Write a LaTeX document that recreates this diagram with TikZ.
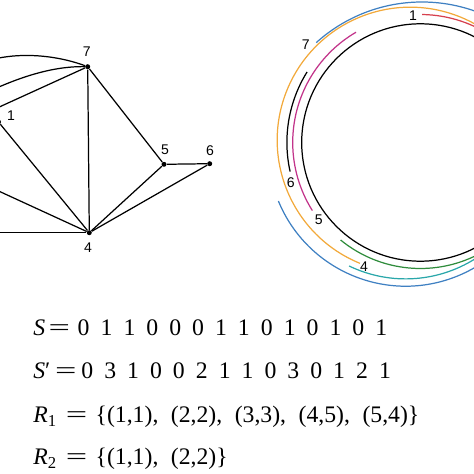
\documentclass[tikz,border=0pt]{standalone}
\usepackage{fontspec}
\setmainfont{Liberation Serif}
\setsansfont{Liberation Sans}

\definecolor{ringred}{HTML}{D6404E}
\definecolor{ringpink}{HTML}{C2338A}
\definecolor{ringorange}{HTML}{F2A93B}
\definecolor{ringblue}{HTML}{3F80C2}
\definecolor{ringteal}{HTML}{2AA7AA}
\definecolor{ringgreen}{HTML}{2F8C3C}

\newcommand\bitbox[1]{\makebox[0.458cm]{#1}}
\newcommand\eqsign{\makebox[0.46cm]{\scalebox{1.6}[1]{=}}}
\newcommand\lowsub[1]{\raisebox{-0.35ex}{\fontsize{9.5}{9.5}\selectfont #1}}

\tikzset{
  vert/.style={circle, fill=black, inner sep=0pt, minimum size=0.1cm},
  vlab/.style={font=\sffamily\fontsize{8}{9}\selectfont, inner sep=0pt},
  link/.style={line width=0.7pt},
  ring/.style={line width=0.7pt},
  eqn/.style={anchor=base west, inner sep=0pt, font=\fontsize{13.5}{15}\selectfont}
}

\begin{document}
\begin{tikzpicture}[x=0.02cm, y=0.02cm]
\useasboundingbox (0,0) rectangle (474,474);
\clip (0,0) rectangle (474,474);

% graph vertices
\node[vert] (n7) at (87.7,407.3) {};
\node[vert] (n4) at (89.3,241.3) {};
\node[vert] (n5) at (164,309.7) {};
\node[vert] (n6) at (209.7,310.3) {};
\node[vert] (n1) at (-1.5,352) {};
% vertices cut off at the left
\coordinate (na) at (-40,349.1);
\coordinate (nb) at (-40,368);
\coordinate (nc) at (-60,380);
\coordinate (nd) at (-40,300.7);
\coordinate (ne) at (-40,241.3);

% graph edges
\draw[link] (n7) -- (n4);
\draw[link] (n7) -- (n5);
\draw[link] (n5) -- (n6);
\draw[link] (n5) -- (n4);
\draw[link] (n6) -- (n4);
\draw[link] (n1) -- (n4);
\draw[link] (na) -- (n7);
\draw[link] (nd) -- (n4);
\draw[link] (ne) -- (n4);
\draw[link] (nb) .. controls (10,395) and (50,408) .. (n7);
\draw[link] (nc) .. controls (-30,425) and (40,425) .. (n7);

% graph labels
\node[vlab] (g7) at (86.7,422.3) {7};
\node[vlab] (g1) at (11,358.3) {1};
\node[vlab] (g4) at (88,226) {4};
\node[vlab] (g5) at (165,324) {5};
\node[vlab] (g6) at (210,323) {6};

% ring centres
\coordinate (ctr) at (420.4,331.5);
\coordinate (ctrt) at (405.6,325.4);
\coordinate (ctro) at (410.2,333.8);
\coordinate (ctrb) at (422,314);

% rings
\draw[ring] (ctr) circle[radius=118.7];
\draw[ring, ringred] (ctr) ++(89.2:128) arc[start angle=89.2, end angle=20, radius=128];
\draw[ring, ringpink] (ctr) ++(120.3:127.7) arc[start angle=120.3, end angle=212.2, radius=127.7];
\draw[ring, ringgreen] (ctr) ++(230.7:126) arc[start angle=230.7, end angle=330, radius=126];
\draw[ring] (ctr) ++(148.1:133.5) arc[start angle=148.1, end angle=192.6, radius=133.5];
\draw[ring, ringorange] (ctro) ++(247.8:133) arc[start angle=247.8, end angle=15, radius=133];
\draw[ring, ringteal] (ctrt) ++(244.3:130.3) arc[start angle=244.3, end angle=340, radius=130.3];
\draw[ring, ringblue] (ctrt) ++(202.4:137.6) arc[start angle=202.4, end angle=340, radius=137.6];
\draw[ring, ringblue] (ctrb) ++(132:158) arc[start angle=132, end angle=15, radius=158];

% ring labels
\node[vlab] (c1) at (413,458.3) {1};
\node[vlab] (c7) at (305.7,429) {7};
\node[vlab] (c6) at (290.7,291.3) {6};
\node[vlab] (c5) at (318.7,254.7) {5};
\node[vlab] (c4) at (364,207) {4};

% sequences and relations
\node[eqn] (lineS) at (33,138) {\textit{S}\hspace{0.05cm}\eqsign\hspace{0.03cm}\bitbox{0}\bitbox{1}\bitbox{1}\bitbox{0}\bitbox{0}\bitbox{0}\bitbox{1}\bitbox{1}\bitbox{0}\bitbox{1}\bitbox{0}\bitbox{1}\bitbox{0}\bitbox{1}};
\node[eqn] (lineSp) at (33,95) {\textit{S}′\hspace{0.08cm}\eqsign\hspace{-0.03cm}\bitbox{0}\bitbox{3}\bitbox{1}\bitbox{0}\bitbox{0}\bitbox{2}\bitbox{1}\bitbox{1}\bitbox{0}\bitbox{3}\bitbox{0}\bitbox{1}\bitbox{2}\bitbox{1}};
\node[eqn] (lineR1) at (33,51.3) {\textit{R}\lowsub{1}\hspace{0.18cm}\eqsign\hspace{0.15cm}\{(1,1),\hspace{0.25cm}(2,2),\hspace{0.25cm}(3,3),\hspace{0.25cm}(4,5),\hspace{0.25cm}(5,4)\}};
\node[eqn] (lineR2) at (33,9.7) {\textit{R}\lowsub{2}\hspace{0.18cm}\eqsign\hspace{0.15cm}\{(1,1),\hspace{0.25cm}(2,2)\}};
\end{tikzpicture}
\end{document}
